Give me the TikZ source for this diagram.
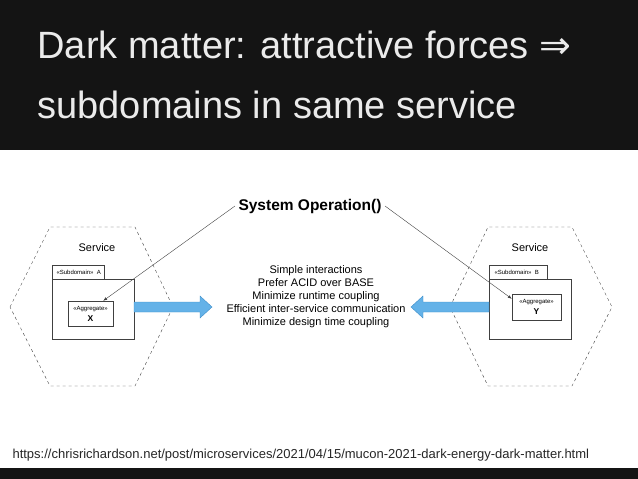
\documentclass[tikz,border=0pt]{standalone}
\usepackage{fontspec}
\setmainfont{Liberation Sans}
\newfontfamily\symf{DejaVu Sans}
\usetikzlibrary{arrows.meta}
\definecolor{blu}{RGB}{100,178,232}
\definecolor{bluD}{RGB}{60,140,200}
\begin{document}
\begin{tikzpicture}[x=1pt,y=-1pt,
  hexa/.style={draw=black!75,dashed,thin},
  box/.style={draw=black!75,thin,fill=white},
  small/.style={font=\fontsize{6}{7}\selectfont},
  mid/.style={font=\fontsize{11}{13}\selectfont},
  conn/.style={draw=black!75,thin,-{Latex[length=4pt,width=3pt]}}]
\useasboundingbox (0,0) rectangle (638,479);
\fill[black!92] (0,0) rectangle (638,150);
\fill[black!92] (0,468) rectangle (638,479);
\node[anchor=west,text=black!8,font=\fontsize{38}{44}\selectfont] (t1) at (34,45) {Dark matter: attractive forces {\symf ⇒}};
\node[anchor=west,text=black!8,font=\fontsize{38}{44}\selectfont] (t2) at (34,105) {subdomains in same service};
% left hexagon
\draw[hexa] (10,307) -- (50,227) -- (135,227) -- (173,307) -- (135,386) -- (50,386) -- cycle;
\node[mid] (s1) at (97,248) {Service};
\draw[box] (52,265) rectangle (104,279);
\node[small,anchor=west] (sd1) at (53,272) {«Subdomain»\ \ A};
\draw[box] (52,279) rectangle (134,339);
\node[box,minimum width=45pt,minimum height=25pt,align=center,inner sep=1pt] (X) at (90.5,313.5) {\fontsize{6}{7}\selectfont «Aggregate»\\[-1pt]\fontsize{8.5}{9}\selectfont\bfseries X};
% right hexagon
\draw[hexa] (450,307) -- (488,227) -- (572,227) -- (612,307) -- (572,386) -- (488,386) -- cycle;
\node[mid] (s2) at (530,248) {Service};
\draw[box] (489,265) rectangle (547,279);
\node[small,anchor=west] (sd2) at (491,272) {«Subdomain»\ \ B};
\draw[box] (489,279) rectangle (571,339);
\node[box,minimum width=49pt,minimum height=26pt,align=center,inner sep=1pt] (Y) at (536.5,307) {\fontsize{6}{7}\selectfont «Aggregate»\\[-1pt]\fontsize{8.5}{9}\selectfont\bfseries Y};
% blue arrows
\draw[draw=bluD,fill=blu] (134,302) -- (200,302) -- (200,296) -- (212,307) -- (200,318) -- (200,312) -- (134,312) -- cycle;
\draw[draw=bluD,fill=blu] (489,302) -- (423,302) -- (423,296) -- (411,307) -- (423,318) -- (423,312) -- (489,312) -- cycle;
% center text
\node[mid,align=center] (c) at (316,297) {Simple interactions\\Prefer ACID over BASE\\Minimize runtime coupling\\Efficient inter-service communication\\Minimize design time coupling};
\node[font=\fontsize{15.5}{18}\selectfont\bfseries] (so) at (310,206) {System Operation()};
\draw[conn] (so.west) -- ([xshift=-10pt]X.north east);
\draw[conn] (so.east) -- ([yshift=-5pt]Y.north west);
\node[anchor=west,font=\fontsize{13}{15}\selectfont,text=black!85] (url) at (9,455) {https://chrisrichardson.net/post/microservices/2021/04/15/mucon-2021-dark-energy-dark-matter.html};
\end{tikzpicture}
\end{document}
